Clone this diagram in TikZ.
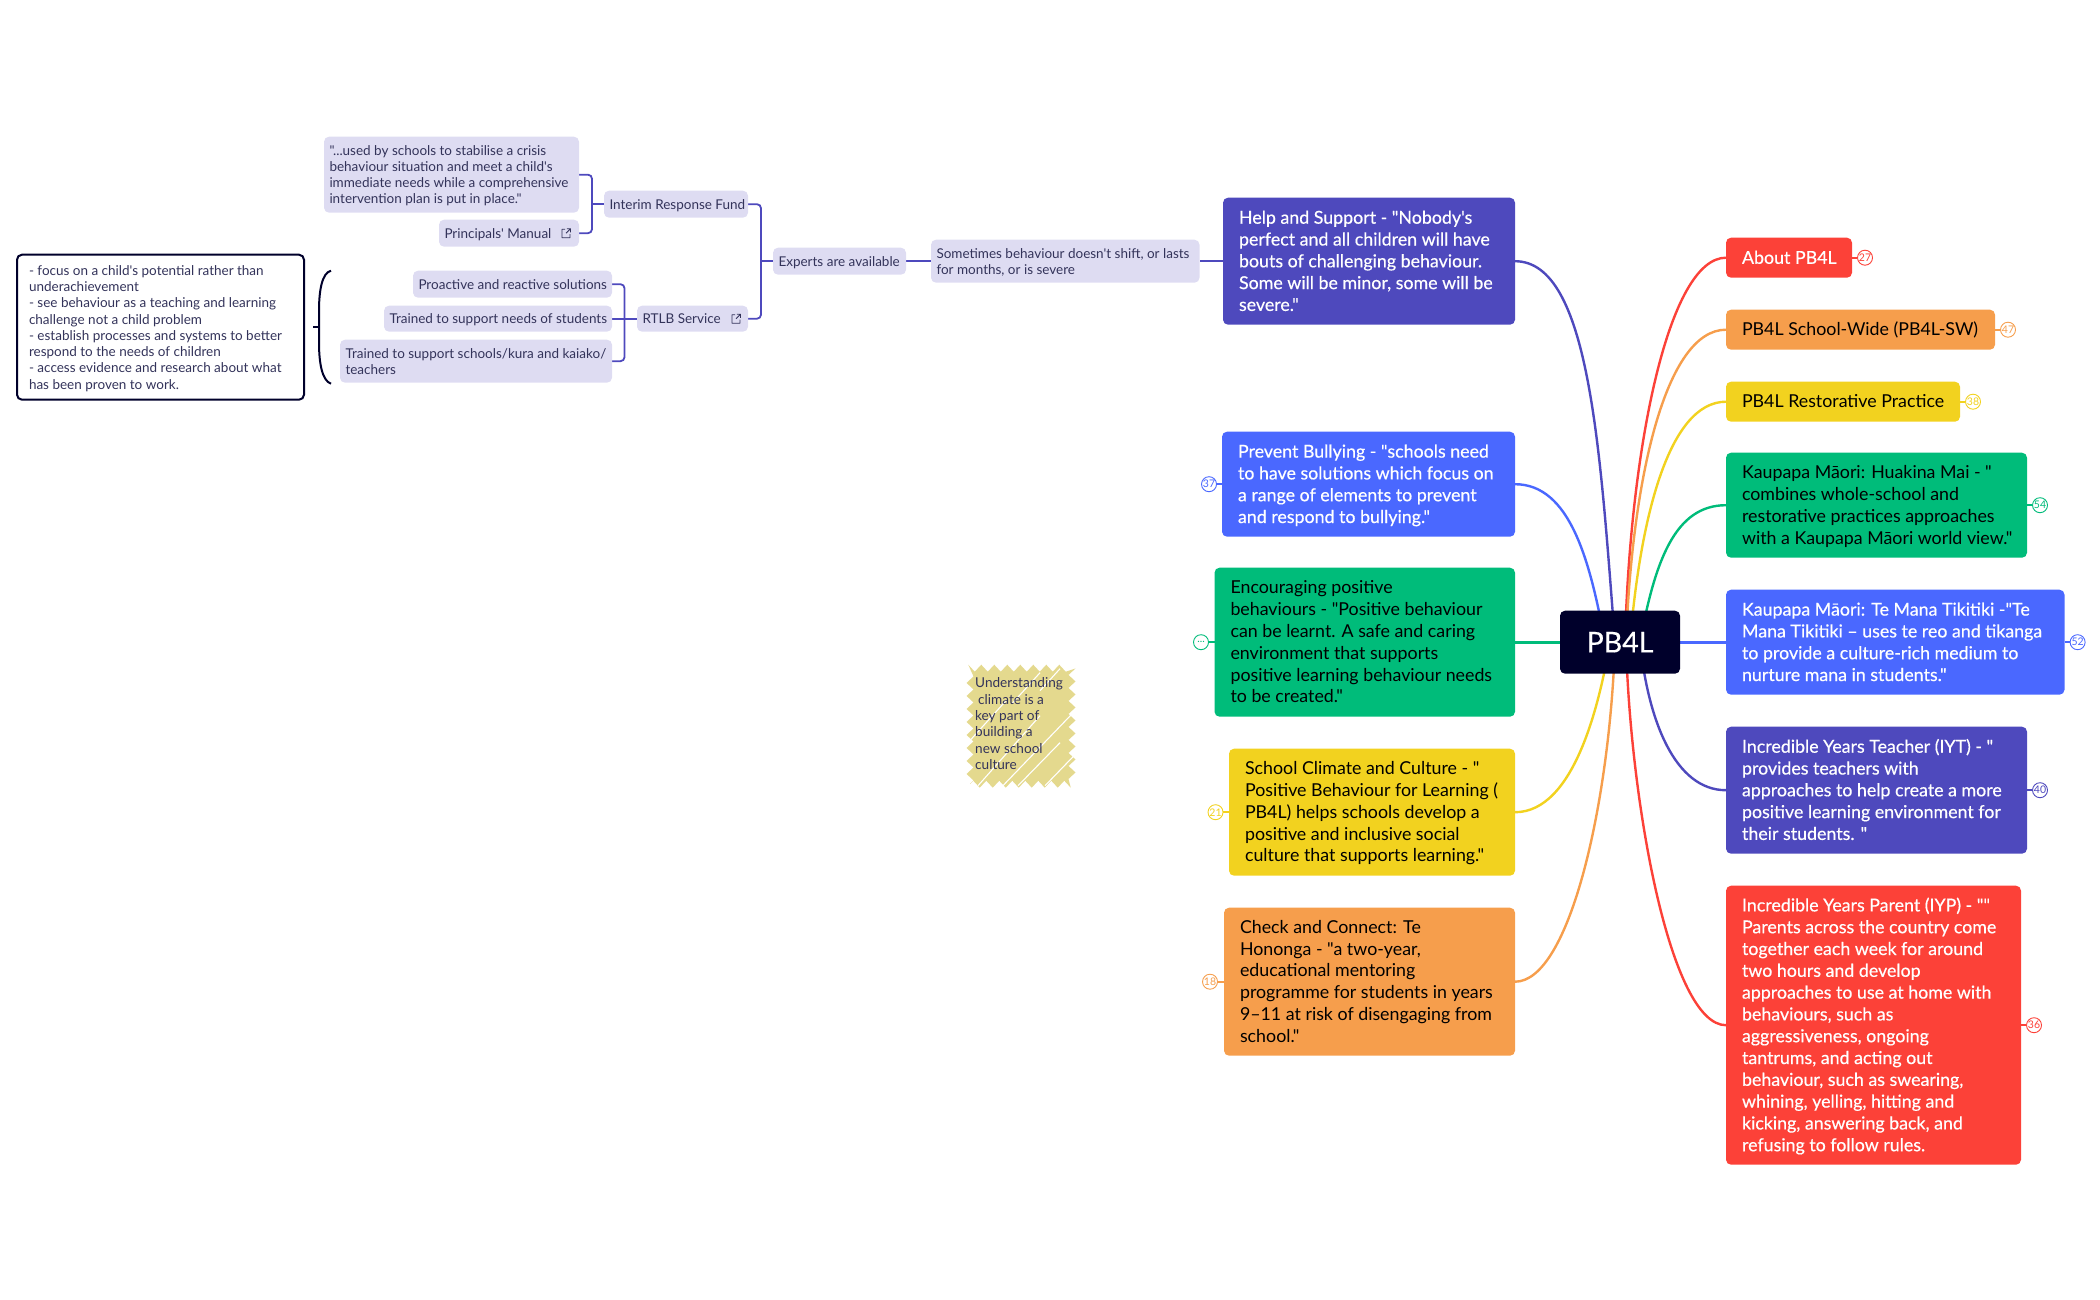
\documentclass[tikz,border=0pt]{standalone}
\usepackage{fontspec}
\newfontfamily\latoplain{Lato}
\newfontfamily\whitefont[FakeBold=0.45]{Lato}
\usetikzlibrary{calc,backgrounds,decorations.pathmorphing}
\definecolor{cred}{HTML}{FC4138}
\definecolor{corange}{HTML}{F69E4C}
\definecolor{cyellow}{HTML}{F2D21F}
\definecolor{cgreen}{HTML}{00BC7A}
\definecolor{cblue}{HTML}{4A68FF}
\definecolor{cindigo}{HTML}{4E49BD}
\definecolor{cnavy}{HTML}{00002B}
\definecolor{clav}{HTML}{DEDCF2}
\definecolor{ctxt}{HTML}{33335A}
\definecolor{csticky}{HTML}{E4D98E}
\tikzset{
  x=1pt,y=-1pt,
  mapnode/.style={rectangle,rounded corners=5pt,anchor=center,inner ysep=0pt,outer sep=0pt},
  main/.style={mapnode,inner xsep=0pt},
  dark/.style={main,text=black,font=\latoplain\fontsize{17.8}{21.8}\selectfont},
  light/.style={main,text=white,font=\whitefont\fontsize{17.8}{21.8}\selectfont},
  lav/.style={mapnode,inner xsep=0pt,fill=clav,text=ctxt,font=\latoplain\fontsize{13.5}{16.2}\selectfont},
  note/.style={mapnode,inner xsep=0pt,draw=cnavy,line width=2pt,fill=white,text=ctxt,font=\latoplain\fontsize{13.5}{16.3}\selectfont},
  badge/.style={circle,draw=#1,text=#1,fill=white,line width=0.9pt,minimum size=15pt,inner sep=0pt,font=\latoplain\fontsize{10.5}{11}\selectfont},
  branch/.style={line width=2.4pt,draw=#1},
  stem/.style={line width=3pt,draw=#1},
  lnk/.style={line width=1.6pt,draw=#1},
  tree/.style={line width=1.8pt,draw=cindigo,rounded corners=4pt},
  extlink/.pic={\draw[ctxt,line width=0.9pt,line join=round]
      (-1,-4)--(-4,-4)--(-4,4.5)--(4,4.5)--(4,1)
      (0,0)--(4.5,-4.5) (0.8,-4.5)--(4.5,-4.5)--(4.5,-0.8);}
}
% name, x0, y0, x1, y1, left pad, style, text
\newcommand{\mapbox}[8]{%
  \pgfmathsetmacro\bxw{#4-#2}\pgfmathsetmacro\bxh{#5-#3}%
  \pgfmathsetmacro\bxt{#4-#2-2*#6}%
  \pgfmathsetmacro\bxx{(#2+#4)/2}\pgfmathsetmacro\bxy{(#3+#5)/2}%
  \node[#7,minimum width=\bxw pt,minimum height=\bxh pt] (#1) at (\bxx,\bxy)
    {\makebox[\bxw pt][l]{\hspace*{#6pt}\raisebox{0pt}[\dimexpr\height+3.5pt\relax][\depth]{\begin{tabular}{@{}l@{}}#8\end{tabular}}}};}
\begin{document}
\begin{tikzpicture}
\useasboundingbox (0,-0.7) rectangle (2100,1299.3);
% hub
\node[mapnode,fill=cnavy,text=white,minimum width=120pt,minimum height=63pt,font=\whitefont\fontsize{28.5}{30}\selectfont] (pb) at (1620,641.5) {PB4L};
% right side
\mapbox{about}{1726}{237}{1852}{277}{16}{light,fill=cred}{About PB4L}
\mapbox{sw}{1726}{309}{1995}{349}{16}{dark,fill=corange}{PB4L School-Wide (PB4L-SW)}
\mapbox{rest}{1726}{381}{1960}{421}{16}{dark,fill=cyellow}{PB4L Restorative Practice}
\mapbox{huak}{1726}{452}{2027}{557}{16}{dark,fill=cgreen}{Kaupapa Māori: Huakina Mai - "\\combines whole-school and\\restorative practices approaches\\with a Kaupapa Māori world view."}
\mapbox{mana}{1726}{589}{2064.5}{694}{16}{light,fill=cblue}{Kaupapa Māori: Te Mana Tikitiki -"Te\\Mana Tikitiki – uses te reo and tikanga\\to provide a culture-rich medium to\\nurture mana in students."}
\mapbox{iyt}{1726}{726}{2027}{853}{16}{light,fill=cindigo}{Incredible Years Teacher (IYT) - "\\provides teachers with\\approaches to help create a more\\positive learning environment for\\their students. "}
\mapbox{iyp}{1726}{885}{2021}{1164}{16}{light,fill=cred}{Incredible Years Parent (IYP) - ""\\Parents across the country come\\together each week for around\\two hours and develop\\approaches to use at home with\\behaviours, such as\\aggressiveness, ongoing\\tantrums, and acting out\\behaviour, such as swearing,\\whining, yelling, hitting and\\kicking, answering back, and\\refusing to follow rules.}
% left side
\mapbox{help}{1223}{197}{1515}{324}{16}{light,fill=cindigo}{Help and Support - "Nobody's\\perfect and all children will have\\bouts of challenging behaviour.\\Some will be minor, some will be\\severe."}
\mapbox{prev}{1222}{431}{1515}{536}{16}{light,fill=cblue}{Prevent Bullying - "schools need\\to have solutions which focus on\\a range of elements to prevent\\and respond to bullying."}
\mapbox{enc}{1214.5}{567}{1515}{716}{16}{dark,fill=cgreen}{Encouraging positive\\behaviours - "Positive behaviour\\can be learnt. A safe and caring\\environment that supports\\positive learning behaviour needs\\to be created."}
\mapbox{clim}{1229}{748}{1515}{875}{16}{dark,fill=cyellow}{School Climate and Culture - "\\Positive Behaviour for Learning (\\PB4L) helps schools develop a\\positive and inclusive social\\culture that supports learning."}
\mapbox{chk}{1224}{907}{1515}{1055}{16}{dark,fill=corange}{Check and Connect: Te\\Hononga - "a two-year,\\educational mentoring\\programme for students in years\\9–11 at risk of disengaging from\\school."}
% sub tree
\mapbox{some}{931}{239}{1199.5}{282}{5.5}{lav}{Sometimes behaviour doesn't shift, or lasts\\for months, or is severe}
\mapbox{expe}{773}{247}{906}{274}{5.5}{lav}{Experts are available}
\mapbox{inter}{604}{190}{748}{217}{5.5}{lav}{Interim Response Fund}
\mapbox{rtlb}{637}{305}{748}{331}{5.5}{lav}{RTLB Service}
\mapbox{quote}{324}{136}{579}{212}{5.5}{lav}{"...used by schools to stabilise a crisis\\behaviour situation and meet a child's\\immediate needs while a comprehensive\\intervention plan is put in place."}
\mapbox{manual}{439}{219}{579}{246}{5.5}{lav}{Principals' Manual}
\mapbox{proact}{413}{270}{612}{297}{5.5}{lav}{Proactive and reactive solutions}
\mapbox{needs}{384}{305}{612}{331}{5.5}{lav}{Trained to support needs of students}
\mapbox{schools}{340}{339}{612}{382}{5.5}{lav}{Trained to support schools/kura and kaiako/\\teachers}
\mapbox{blk}{17}{254}{304}{399}{12}{note}{- focus on a child's potential rather than\\underachievement\\- see behaviour as a teaching and learning\\challenge not a child problem\\- establish processes and systems to better\\respond to the needs of children\\- access evidence and research about what\\has been proven to work.}
\pic at ($(manual.east)+(-13,0)$) {extlink};
\pic at ($(rtlb.east)+(-12,0)$) {extlink};
% badges
\node[badge=cred] (b27) at (1865,257) {27};
\node[badge=corange] (b47) at (2008,329) {47};
\node[badge=cyellow] (b38) at (1973,401) {38};
\node[badge=cgreen] (b54) at (2040,504.5) {54};
\node[badge=cblue] (b52) at (2077.6,641.5) {52};
\node[badge=cindigo] (b40) at (2040,789.5) {40};
\node[badge=cred] (b36) at (2034,1024.5) {36};
\node[badge=cblue] (b37) at (1209,483.5) {37};
\node[badge=cgreen] (bdots) at (1201,641.5) {...};
\node[badge=cyellow] (b21) at (1215.5,811.5) {21};
\node[badge=corange] (b18) at (1210,981) {18};
% sticky
\node[rectangle,fill=csticky,decorate,decoration={zigzag,segment length=13pt,amplitude=3.5pt},minimum width=102pt,minimum height=116pt] (stickybg) at (1021,725.5) {};
\draw[white,line width=1.1pt] (1000,788)--(1078,707) (968,742)--(1006,700) (978,785)--(1040,715) (1040,672)--(1012,703) (1060,668)--(1040,690) (1018,785)--(1060,742) (1045,785)--(1074,755);
\node[anchor=north west,align=left,inner sep=0pt,text=ctxt,font=\latoplain\fontsize{13.6}{16.3}\selectfont] (sticky) at (975,677) {Understanding\\\hspace*{3pt}climate is a\\key part of\\building a\\new school\\culture};
% connectors
\begin{pgfonlayer}{background}
\draw[branch=cred] (about.west) .. controls (1668,257) and (1630,450) .. ($(pb.center)+(5,0)$);
\draw[branch=corange] (sw.west) .. controls (1665,329) and (1632,480) .. ($(pb.center)+(6,0)$);
\draw[branch=cyellow] (rest.west) .. controls (1668,401) and (1640,520) .. ($(pb.center)+(10,0)$);
\draw[branch=cgreen] (huak.west) .. controls (1675,504.5) and (1655,560) .. ($(pb.center)+(20,0)$);
\draw[stem=cblue] (mana.west) -- (pb.east);
\draw[branch=cindigo] (iyt.west) .. controls (1675,789.5) and (1648,720) .. ($(pb.center)+(20,0)$);
\draw[branch=cred] (iyp.west) .. controls (1670,1024.5) and (1630,800) .. ($(pb.center)+(6,0)$);
\draw[branch=cindigo] (help.east) .. controls (1590,260.5) and (1600,450) .. ($(pb.center)+(-5,0)$);
\draw[branch=cblue] (prev.east) .. controls (1570,483.5) and (1590,560) .. ($(pb.center)+(-15,0)$);
\draw[stem=cgreen] (enc.east) -- (pb.west);
\draw[branch=cyellow] (clim.east) .. controls (1575,811.5) and (1600,700) .. ($(pb.center)+(-10,0)$);
\draw[branch=corange] (chk.east) .. controls (1570,981) and (1610,800) .. ($(pb.center)+(-5,0)$);
\draw[lnk=cred] (about.east)--(b27);
\draw[lnk=corange] (sw.east)--(b47);
\draw[lnk=cyellow] (rest.east)--(b38);
\draw[lnk=cgreen] (huak.east)--(b54);
\draw[lnk=cblue] (mana.east)--(b52);
\draw[lnk=cindigo] (iyt.east)--(b40);
\draw[lnk=cred] (iyp.east)--(b36);
\draw[lnk=cblue] (prev.west)--(b37);
\draw[lnk=cgreen] (enc.west)--(bdots);
\draw[lnk=cyellow] (clim.west)--(b21);
\draw[lnk=corange] (chk.west)--(b18);
\coordinate (ja) at (592,203.5);
\coordinate (jb) at (624.5,318);
\coordinate (jc) at (761,260.5);
\draw[tree] (help.west)--(some.east);
\draw[tree] (some.west)--(expe.east);
\draw[tree] (expe.west)--(jc);
\draw[tree] (inter.east) -| (jc) |- (rtlb.east);
\draw[tree] (inter.west)--(ja);
\draw[tree] (quote.east) -| (ja) |- (manual.east);
\draw[tree] (needs.east)--(rtlb.west);
\draw[tree] (proact.east) -| (jb) |- (schools.east);
\end{pgfonlayer}
% brace
\coordinate (bt) at (331,270);
\coordinate (bm) at (313,326);
\coordinate (bb) at (331,383);
\draw[cnavy,line width=2pt] (bt) .. controls (322,272) and (319,290) .. (319,310) -- (319,342) .. controls (319,362) and (322,380) .. (bb);
\draw[cnavy,line width=2pt] (bm) -- (319,326);
\end{tikzpicture}
\end{document}
